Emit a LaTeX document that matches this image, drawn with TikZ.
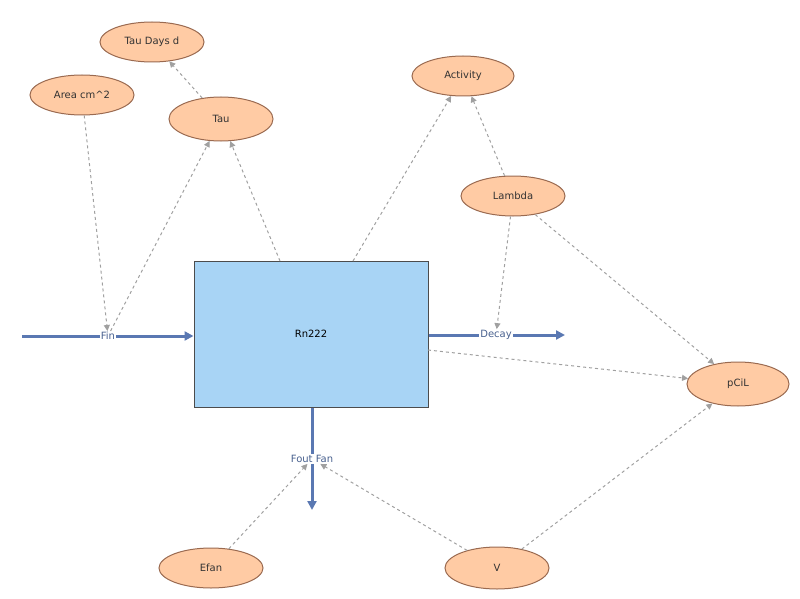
\documentclass[tikz,border=0pt]{standalone}
\usepackage{fontspec}
\setmainfont{DejaVu Sans}
\usetikzlibrary{shapes.geometric,arrows.meta}
\definecolor{efill}{HTML}{FFCBA4}
\definecolor{edraw}{HTML}{9A6A50}
\definecolor{flow}{HTML}{5A78B2}
\definecolor{dep}{HTML}{A0A0A0}
\definecolor{boxfill}{HTML}{A8D4F5}
\tikzset{
 var/.style={ellipse,draw=edraw,fill=efill,line width=1pt,minimum width=104pt,minimum height=40pt,font=\fontsize{10}{11}\selectfont,text=black!80},
 dep/.style={draw=dep,dashed,line width=1pt,-{Triangle[length=6pt,width=6pt]}},
 flowa/.style={draw=flow,line width=3pt,-{Triangle[length=9pt,width=9pt]}},
 flabel/.style={font=\fontsize{10}{11}\selectfont,text=flow!80!black,inner sep=1pt}
}
\begin{document}
\begin{tikzpicture}[x=1pt,y=-1pt]
\useasboundingbox (0,0) rectangle (800,599);
\node[var] (taud) at (152,42) {Tau Days d};
\node[var] (area) at (82,95) {Area cm\^{}2};
\node[var,minimum height=44pt] (tau) at (221,119) {Tau};
\node[var,minimum width=102pt] (act) at (463,76) {Activity};
\node[var] (lam) at (513,196) {Lambda};
\node[var,minimum width=102pt,minimum height=44pt] (pcil) at (738,384) {pCiL};
\node[var] (efan) at (211,568) {Efan};
\node[var,minimum height=42pt] (v) at (497,568) {V};
\node[draw=black!70,fill=boxfill,line width=1pt,minimum width=234pt,minimum height=146pt,font=\fontsize{10}{11}\selectfont] (rn) at (311,334) {Rn222};
\coordinate (src) at (22,336);
\coordinate (snk) at (565,335);
\coordinate (fout) at (312,510);
\node[flabel] (fin) at (108,336) {Fin};
\node[flabel] (dec) at (496,335) {Decay};
\node[flabel] (ff) at (312,459) {Fout Fan};
\draw[flow,line width=3pt] (src) -- (fin.west);
\draw[flowa] (fin.east) -- (rn.west |- fin);
\draw[flow,line width=3pt] (rn.east |- dec) -- (dec.west);
\draw[flowa] (dec.east) -- (snk);
\draw[flow,line width=3pt] (rn.south -| ff) -- (ff.north);
\draw[flowa] (ff.south) -- (fout);
\draw[dep] (area) -- (fin);
\draw[dep] (fin) -- (tau);
\draw[dep] (tau) -- (taud);
\draw[dep] (280,261) -- (tau);
\draw[dep] (353,261) -- (act);
\draw[dep] (lam) -- (act);
\draw[dep] (lam) -- (dec);
\draw[dep] (lam) -- (pcil);
\draw[dep] (428,350) -- (pcil);
\draw[dep] (efan) -- (ff);
\draw[dep] (v) -- (ff);
\draw[dep] (v) -- (pcil);
\end{tikzpicture}
\end{document}
